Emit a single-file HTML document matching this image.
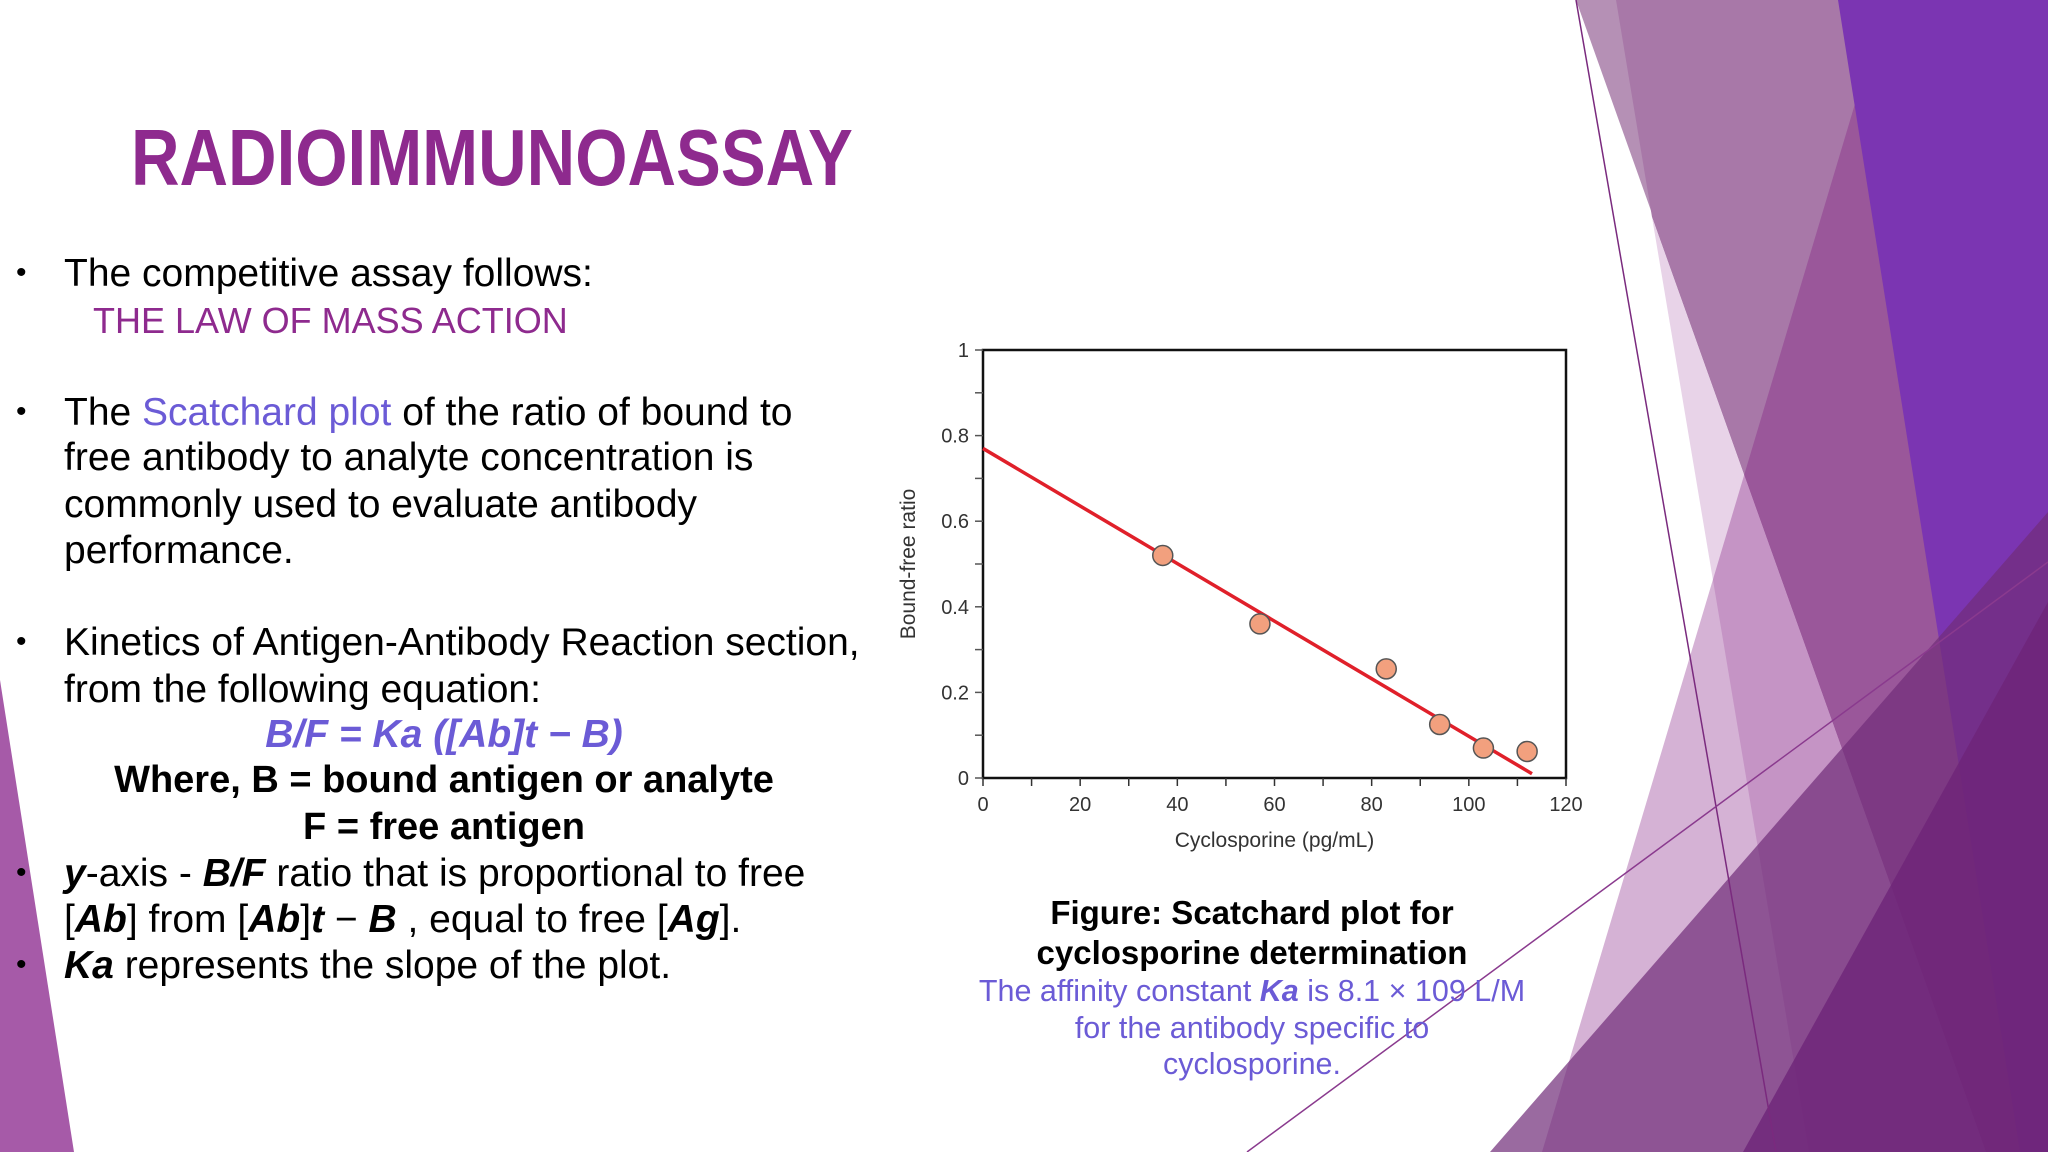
<!DOCTYPE html>
<html><head><meta charset="utf-8"><style>
body{margin:0;width:2048px;height:1152px;overflow:hidden;background:#fff;position:relative;font-family:"Liberation Sans",sans-serif}
.t{position:absolute;white-space:nowrap;font-size:39px;line-height:1;color:#000}
.b{position:absolute;font-size:30px;line-height:1;left:16px}
.c{position:absolute;white-space:nowrap;font-size:33px;line-height:1;transform:translateX(-50%)}
.blue{color:#6b5bd6}
.purple{color:#8e2a8e}
</style></head><body>
<svg width="2048" height="1152" style="position:absolute;left:0;top:0">
<polygon points="1576,0 2048,0 2048,1152 1986,1152" fill="#b590b5"/>
<polygon points="1616,0 2048,0 2048,1152 1986,1152 1652,217" fill="#a878a8"/>
<polygon points="1652,217 1809,1152 1986,1152" fill="#e8d3e8"/>
<polygon points="1886,0 2048,0 2048,1152 1542,1152" fill="rgb(129,20,129)" opacity="0.33"/>
<polygon points="1838,0 2048,0 2048,1152 2020,1152" fill="#7b35b2"/>
<polygon points="1490,1152 2048,512 2048,1152" fill="rgb(113,45,121)" opacity="0.71"/>
<polygon points="1743,1152 2048,602 2048,1152" fill="#6e2478" opacity="0.8"/>
<line x1="1576" y1="0" x2="1776" y2="1152" stroke="#7a2a7e" stroke-width="1.5"/>
<line x1="1247" y1="1152" x2="2048" y2="562" stroke="#8a3a8e" stroke-width="1.5"/>
<polygon points="0,680 74,1152 0,1152" fill="#a65aa8"/>
</svg>

<div style="position:absolute;left:131px;top:118px;font-size:80px;line-height:1;font-weight:bold;color:#8e2a8e;transform:scaleX(0.84);transform-origin:0 0;white-space:nowrap">RADIOIMMUNOASSAY</div>

<div class="b" style="top:258px">•</div>
<div class="t" style="left:64px;top:254px">The competitive assay follows:</div>
<div class="t purple" style="left:93px;top:303px;font-size:36px">THE LAW OF MASS ACTION</div>

<div class="b" style="top:397px">•</div>
<div class="t" style="left:64px;top:393px">The <span class="blue">Scatchard plot</span> of the ratio of bound to</div>
<div class="t" style="left:64px;top:438px">free antibody to analyte concentration is</div>
<div class="t" style="left:64px;top:485px">commonly used to evaluate antibody</div>
<div class="t" style="left:64px;top:531px">performance.</div>

<div class="b" style="top:627px">•</div>
<div class="t" style="left:64px;top:623px">Kinetics of Antigen-Antibody Reaction section,</div>
<div class="t" style="left:64px;top:670px">from the following equation:</div>
<div class="t blue" style="left:444px;top:715px;transform:translateX(-50%);font-style:italic;font-weight:bold">B/F = Ka ([Ab]t − B)</div>
<div class="t" style="left:444px;top:761px;transform:translateX(-50%);font-weight:bold;font-size:38px">Where, B = bound antigen or analyte</div>
<div class="t" style="left:444px;top:808px;transform:translateX(-50%);font-weight:bold;font-size:38px">F = free antigen</div>

<div class="b" style="top:858px">•</div>
<div class="t" style="left:64px;top:854px"><b><i>y</i></b>-axis - <b><i>B/F</i></b> ratio that is proportional to free</div>
<div class="t" style="left:64px;top:900px">[<b><i>Ab</i></b>] from [<b><i>Ab</i></b>]<b><i>t</i></b> − <b><i>B</i></b> , equal to free [<b><i>Ag</i></b>].</div>
<div class="b" style="top:950px">•</div>
<div class="t" style="left:64px;top:946px"><b><i>Ka</i></b> represents the slope of the plot.</div>

<svg id="chart" width="2048" height="1152" style="position:absolute;left:0;top:0"></svg>

<div class="c" style="left:1252px;top:896px;font-weight:bold">Figure: Scatchard plot for</div>
<div class="c" style="left:1252px;top:936px;font-weight:bold">cyclosporine determination</div>
<div class="c blue" style="left:1252px;top:976px;font-size:30.5px">The affinity constant <b><i>Ka</i></b> is 8.1 × 109 L/M</div>
<div class="c blue" style="left:1252px;top:1013px;font-size:30.5px">for the antibody specific to</div>
<div class="c blue" style="left:1252px;top:1049px;font-size:30.5px">cyclosporine.</div>

<script>
const xVals = [37, 57, 83, 94, 103, 112];
const yVals = [0.52, 0.36, 0.255, 0.125, 0.07, 0.062];
const fitX = [0, 113];
const fitY = [0.77, 0.01];
const xTicks = [0, 20, 40, 60, 80, 100, 120];
const yTicks = [0, 0.2, 0.4, 0.6, 0.8, 1];
const yTickLabels = ["0", "0.2", "0.4", "0.6", "0.8", "1"];

const L = 983, R = 1566, T = 350, B = 778;
const sx = v => L + v / 120 * (R - L);
const sy = v => B - v * (B - T);
const svg = document.getElementById('chart');
const NS = 'http://www.w3.org/2000/svg';
function mk(tag, attrs) { const e = document.createElementNS(NS, tag); for (const k in attrs) e.setAttribute(k, attrs[k]); svg.appendChild(e); return e; }

let e = mk('rect', {x: L, y: T, width: R - L, height: B - T, fill: 'none', stroke: '#111', 'stroke-width': 2.5});



for (let v = 0; v <= 120; v += 10) {
  e = mk('line', {x1: sx(v), y1: B, x2: sx(v), y2: B + 8, stroke: '#333', 'stroke-width': 1.5});
  
  
}
xTicks.forEach(v => {
  e = mk('text', {x: sx(v), y: B + 33, 'text-anchor': 'middle', 'font-size': 20, fill: '#333', 'font-family': 'Liberation Sans'});
  e.textContent = v;
  
  
});
for (let i = 0; i <= 10; i++) {
  const v = i / 10;
  e = mk('line', {x1: L - 8, y1: sy(v), x2: L, y2: sy(v), stroke: '#555', 'stroke-width': 1.5});
  
  
}
yTicks.forEach((v, i) => {
  e = mk('text', {x: L - 14, y: sy(v) + 7, 'text-anchor': 'end', 'font-size': 20, fill: '#333', 'font-family': 'Liberation Sans'});
  e.textContent = yTickLabels[i];
  
  
});
e = mk('text', {x: (L + R) / 2, y: 847, 'text-anchor': 'middle', 'font-size': 21, fill: '#333', 'font-family': 'Liberation Sans'});
e.textContent = 'Cyclosporine (pg/mL)';


e = mk('text', {x: 0, y: 0, 'text-anchor': 'middle', 'font-size': 21, fill: '#333', 'font-family': 'Liberation Sans', transform: 'translate(915,564) rotate(-90)'});
e.textContent = 'Bound-free ratio';



e = mk('line', {x1: sx(fitX[0]), y1: sy(fitY[0]), x2: sx(fitX[1]), y2: sy(fitY[1]), stroke: '#e0202a', 'stroke-width': 3.5});



xVals.forEach((v, i) => {
  e = mk('ellipse', {cx: sx(v), cy: sy(yVals[i]), rx: 10, ry: 10, fill: '#f2a07e', stroke: '#555', 'stroke-width': 1.5});
  
  
});
</script>
</body></html>
